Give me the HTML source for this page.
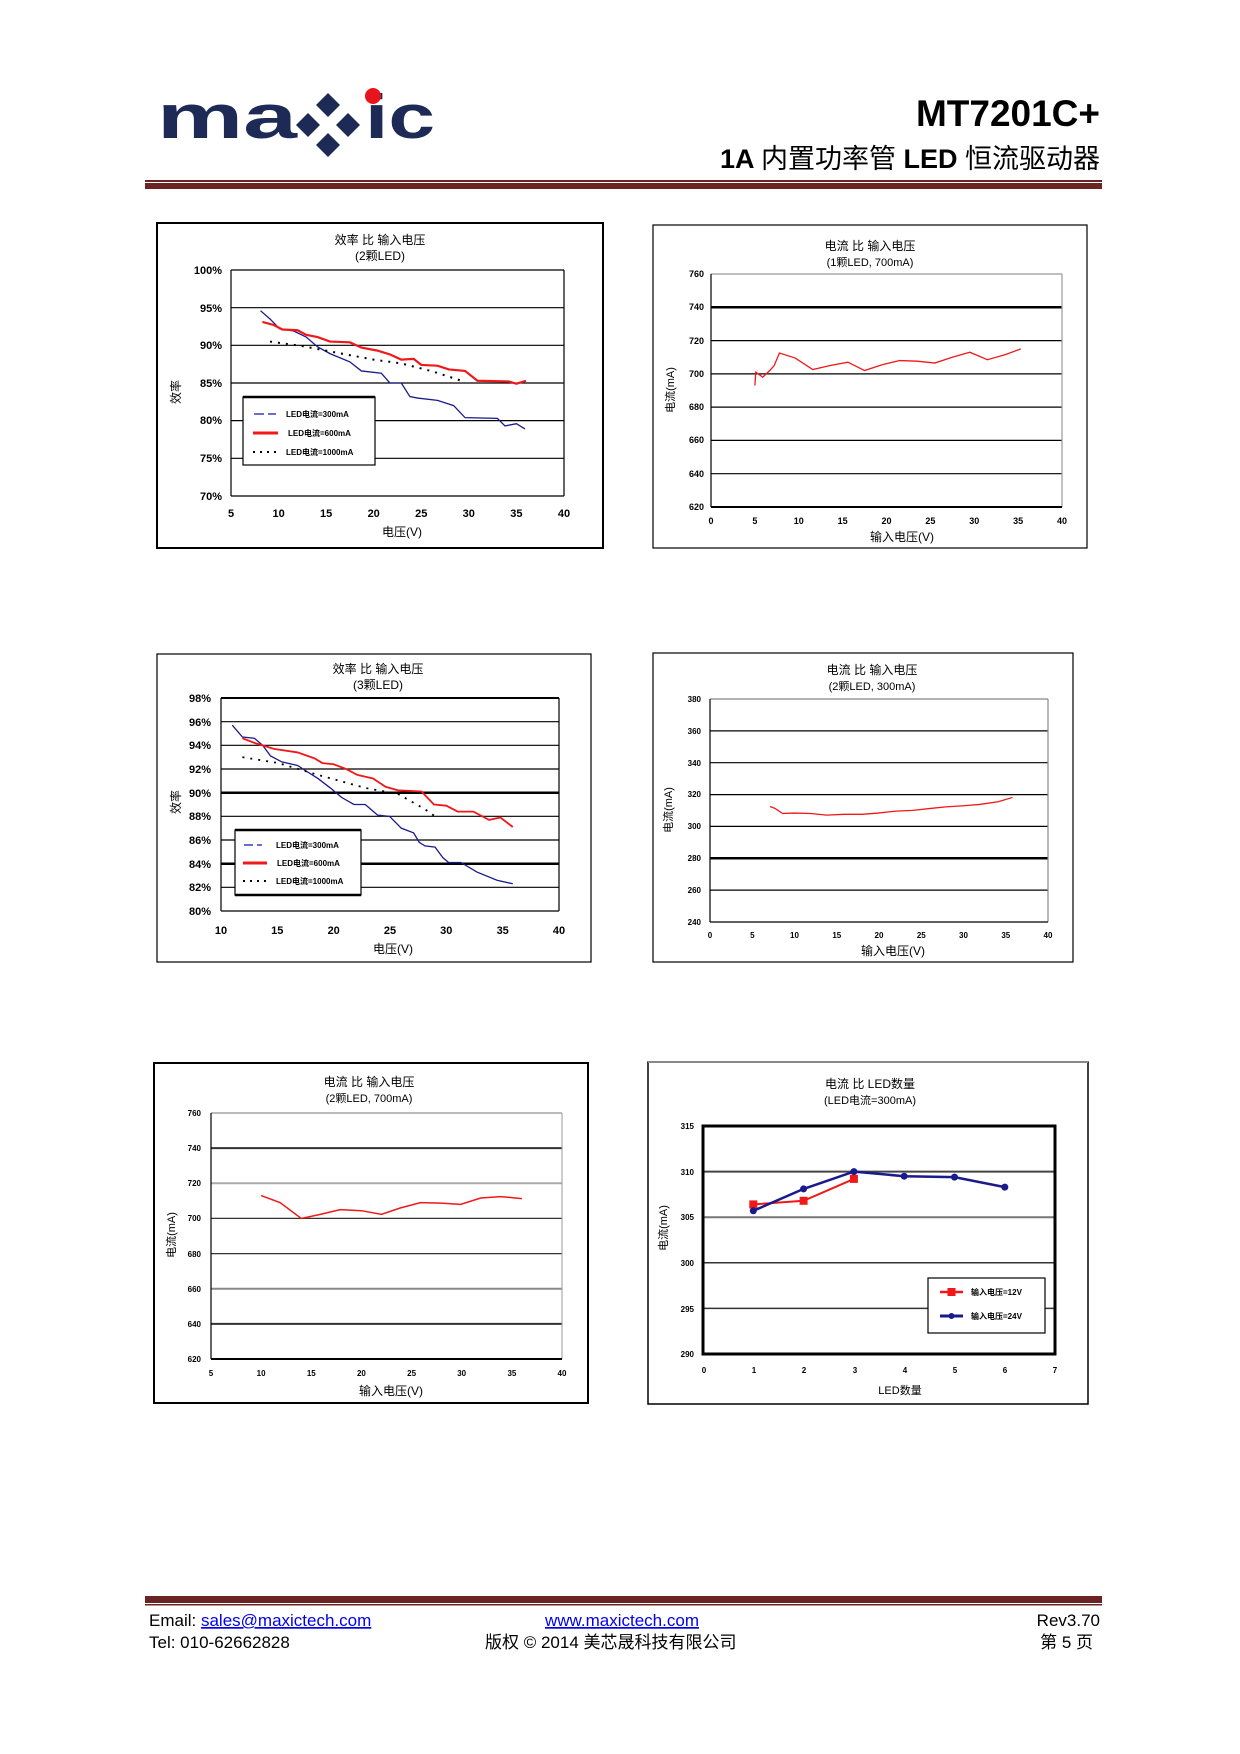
<!DOCTYPE html>
<html><head><meta charset="utf-8"><style>
html,body{margin:0;padding:0;background:#fff;}
body{width:1240px;height:1754px;position:relative;overflow:hidden;}
svg{position:absolute;left:0;top:0;}
text{font-family:"Liberation Sans","Noto Sans CJK SC",sans-serif;}
</style></head><body>
<svg width="1240" height="1754" viewBox="0 0 1240 1754" xmlns="http://www.w3.org/2000/svg">
<!-- Logo -->
<g>
<text x="157" y="138" font-size="62" font-weight="bold" fill="#1c2a55" textLength="140" lengthAdjust="spacingAndGlyphs">ma</text>
<g fill="#1c2a55">
<polygon points="328,93 340,105 328,117 316,105"/>
<polygon points="308,113 320,125 308,137 296,125"/>
<polygon points="348,113 360,125 348,137 336,125"/>
<polygon points="328,133 340,145 328,157 316,145"/>
</g>
<text x="365" y="138" font-size="62" font-weight="bold" fill="#1c2a55" textLength="70" lengthAdjust="spacingAndGlyphs">ic</text>
<circle cx="373" cy="96" r="8" fill="#e8141b"/>
</g>
<text x="1100" y="126" font-size="37" font-weight="bold" text-anchor="end" fill="#000">MT7201C+</text>
<text x="1100" y="168" font-size="27" font-weight="bold" text-anchor="end" fill="#000">1A <tspan font-weight="normal">内置功率管</tspan> LED <tspan font-weight="normal">恒流驱动器</tspan></text>
<rect x="145" y="180" width="957" height="2" fill="#6b2424"/>
<rect x="145" y="183" width="957" height="6" fill="#6b2424"/>

<!-- Chart 1 -->
<rect x="157" y="223" width="446" height="325" fill="none" stroke="#000" stroke-width="2"/>
<text x="380" y="244" font-size="12" text-anchor="middle">效率 比 输入电压</text>
<text x="380" y="260" font-size="12" text-anchor="middle">(2颗LED)</text>
<g stroke="#000" stroke-width="1.2">
<line x1="231" y1="270" x2="564" y2="270"/><line x1="231" y1="307.7" x2="564" y2="307.7"/><line x1="231" y1="345.3" x2="564" y2="345.3"/><line x1="231" y1="383" x2="564" y2="383"/><line x1="231" y1="420.6" x2="564" y2="420.6"/><line x1="231" y1="458.3" x2="564" y2="458.3"/>
<line x1="231" y1="270" x2="231" y2="496"/><line x1="564" y1="270" x2="564" y2="496"/><line x1="231" y1="496" x2="564" y2="496"/>
</g>
<g font-size="11" font-weight="bold" text-anchor="end"><text x="222" y="274">100%</text><text x="222" y="312">95%</text><text x="222" y="349">90%</text><text x="222" y="387">85%</text><text x="222" y="424">80%</text><text x="222" y="462">75%</text><text x="222" y="500">70%</text></g>
<g font-size="11" font-weight="bold" text-anchor="middle"><text x="231" y="517">5</text><text x="278.6" y="517">10</text><text x="326.1" y="517">15</text><text x="373.7" y="517">20</text><text x="421.3" y="517">25</text><text x="468.8" y="517">30</text><text x="516.4" y="517">35</text><text x="564" y="517">40</text></g>
<text x="402" y="536" font-size="12" text-anchor="middle">电压(V)</text>
<text transform="translate(180,392) rotate(-90)" font-size="12" text-anchor="middle">效率</text>
<svg x="231" y="270" width="333" height="226" viewBox="5 -100 35 30" preserveAspectRatio="none" overflow="visible">
<polyline fill="none" stroke="#1a1a8c" stroke-width="1.3" vector-effect="non-scaling-stroke" points="8.1,-94.6 9.1,-93.5 10.1,-92.2 11.6,-91.9 12.9,-91.1 14.1,-89.8 15.4,-88.9 17.5,-87.8 18.7,-86.6 20.8,-86.3 21.7,-85 22.9,-85 23.8,-83.2 24.6,-83 26.7,-82.7 28.4,-82 29.6,-80.4 33,-80.3 33.8,-79.3 35,-79.6 35.9,-78.9"/>
<polyline fill="none" stroke="#f01818" stroke-width="2.2" vector-effect="non-scaling-stroke" points="8.3,-93.1 9.5,-92.7 10.4,-92.1 12,-92 12.9,-91.4 14.1,-91.1 15.4,-90.5 17.5,-90.4 18.7,-89.7 20.4,-89.3 21.7,-88.8 22.9,-88.1 24.2,-88.2 25,-87.4 26.7,-87.3 27.9,-86.8 29.6,-86.6 30.9,-85.3 34.2,-85.2 35,-84.9 36,-85.3"/>
<polyline fill="none" stroke="#000" stroke-width="2" stroke-dasharray="2 6" vector-effect="non-scaling-stroke" points="9.1,-90.5 12.5,-89.9 15.8,-89.1 20,-88.1 22.9,-87.6 26.3,-86.5 29.2,-85.3"/>
</svg>
<rect x="243" y="397" width="132" height="68" fill="#fff" stroke="#000" stroke-width="1.2"/>
<line x1="243" y1="397" x2="375" y2="397" stroke="#000" stroke-width="2.5"/>
<line x1="254" y1="414" x2="276" y2="414" stroke="#6b6bd0" stroke-width="2" stroke-dasharray="10 4"/>
<line x1="253" y1="433" x2="278" y2="433" stroke="#f01818" stroke-width="3"/>
<line x1="253" y1="452" x2="278" y2="452" stroke="#000" stroke-width="2" stroke-dasharray="2 5"/>
<g font-size="8" font-weight="bold"><text x="286" y="417">LED电流=300mA</text><text x="288" y="436">LED电流=600mA</text><text x="286" y="455">LED电流=1000mA</text></g>

<!-- Chart 2 -->
<rect x="653" y="225" width="434" height="323" fill="none" stroke="#000" stroke-width="1.2"/>
<text x="870" y="250" font-size="12" text-anchor="middle">电流 比 输入电压</text>
<text x="870" y="266" font-size="11" text-anchor="middle">(1颗LED, 700mA)</text>
<g stroke="#000" stroke-width="1.2">
<line x1="711" y1="274" x2="1062" y2="274" stroke="#999"/><line x1="711" y1="307.3" x2="1062" y2="307.3" stroke-width="2.5"/><line x1="711" y1="340.6" x2="1062" y2="340.6"/><line x1="711" y1="373.9" x2="1062" y2="373.9"/><line x1="711" y1="407.1" x2="1062" y2="407.1"/><line x1="711" y1="440.4" x2="1062" y2="440.4"/><line x1="711" y1="473.7" x2="1062" y2="473.7"/>
<line x1="711" y1="274" x2="711" y2="507"/><line x1="1062" y1="274" x2="1062" y2="507" stroke="#999"/><line x1="711" y1="507" x2="1062" y2="507" stroke-width="2"/>
</g>
<g font-size="9" font-weight="bold" text-anchor="end"><text x="704" y="277">760</text><text x="704" y="310">740</text><text x="704" y="344">720</text><text x="704" y="377">700</text><text x="704" y="410">680</text><text x="704" y="443">660</text><text x="704" y="477">640</text><text x="704" y="510">620</text></g>
<g font-size="9" font-weight="bold" text-anchor="middle"><text x="711" y="524">0</text><text x="754.9" y="524">5</text><text x="798.8" y="524">10</text><text x="842.6" y="524">15</text><text x="886.5" y="524">20</text><text x="930.4" y="524">25</text><text x="974.3" y="524">30</text><text x="1018.1" y="524">35</text><text x="1062" y="524">40</text></g>
<text x="902" y="541" font-size="12" text-anchor="middle">输入电压(V)</text>
<text transform="translate(674,390) rotate(-90)" font-size="11" text-anchor="middle">电流(mA)</text>
<svg x="711" y="274" width="351" height="233" viewBox="0 -760 40 140" preserveAspectRatio="none" overflow="visible">
<polyline fill="none" stroke="#f01818" stroke-width="1.3" vector-effect="non-scaling-stroke" points="5,-693 5.1,-701 5.9,-698 6.7,-702 7.2,-705 7.8,-712.5 9.6,-709.5 11.6,-702.6 13.6,-705 15.6,-707 17.5,-702 19.5,-705.5 21.5,-708 23.5,-707.6 25.5,-706.5 27.5,-710 29.5,-713 31.5,-708.5 33.5,-711.5 35.3,-715"/>
</svg>

<!-- Chart 3 -->
<rect x="157" y="654" width="434" height="308" fill="none" stroke="#000" stroke-width="1.2"/>
<text x="378" y="673" font-size="12" text-anchor="middle">效率 比 输入电压</text>
<text x="378" y="689" font-size="12" text-anchor="middle">(3颗LED)</text>
<g stroke="#000" stroke-width="1.2">
<line x1="221" y1="698" x2="559" y2="698" stroke-width="2"/><line x1="221" y1="721.7" x2="559" y2="721.7"/><line x1="221" y1="745.3" x2="559" y2="745.3"/><line x1="221" y1="769" x2="559" y2="769"/><line x1="221" y1="792.7" x2="559" y2="792.7" stroke-width="2.5"/><line x1="221" y1="816.3" x2="559" y2="816.3"/><line x1="221" y1="840" x2="559" y2="840"/><line x1="221" y1="863.7" x2="559" y2="863.7" stroke-width="2.5"/><line x1="221" y1="887.3" x2="559" y2="887.3"/>
<line x1="221" y1="698" x2="221" y2="911"/><line x1="559" y1="698" x2="559" y2="911"/><line x1="221" y1="911" x2="559" y2="911"/>
</g>
<g font-size="11" font-weight="bold" text-anchor="end"><text x="211" y="702">98%</text><text x="211" y="726">96%</text><text x="211" y="749">94%</text><text x="211" y="773">92%</text><text x="211" y="797">90%</text><text x="211" y="820">88%</text><text x="211" y="844">86%</text><text x="211" y="868">84%</text><text x="211" y="891">82%</text><text x="211" y="915">80%</text></g>
<g font-size="11" font-weight="bold" text-anchor="middle"><text x="221" y="934">10</text><text x="277.3" y="934">15</text><text x="333.7" y="934">20</text><text x="390" y="934">25</text><text x="446.3" y="934">30</text><text x="502.7" y="934">35</text><text x="559" y="934">40</text></g>
<text x="393" y="953" font-size="12" text-anchor="middle">电压(V)</text>
<text transform="translate(180,802) rotate(-90)" font-size="12" text-anchor="middle">效率</text>
<svg x="221" y="698" width="338" height="213" viewBox="10 -98 30 18" preserveAspectRatio="none" overflow="visible">
<polyline fill="none" stroke="#1a1a8c" stroke-width="1.3" vector-effect="non-scaling-stroke" points="11,-95.7 11.9,-94.7 12.96,-94.6 13.7,-94 14.4,-93.1 15.4,-92.6 16.8,-92.3 17.6,-91.8 18.6,-91.2 19.7,-90.4 20.7,-89.6 21.8,-89 22.8,-89 23.9,-88.1 24.96,-88 26,-87 27.1,-86.6 27.6,-85.8 28.1,-85.5 29,-85.4 29.7,-84.5 30.2,-84.1 31.3,-84.1 32.7,-83.3 34.5,-82.6 35.9,-82.3"/>
<polyline fill="none" stroke="#f01818" stroke-width="1.8" vector-effect="non-scaling-stroke" points="11.9,-94.6 13,-94.2 14.7,-93.7 16.8,-93.4 18.3,-92.9 19,-92.5 20,-92.4 21.1,-92 22.1,-91.5 23.5,-91.2 24.6,-90.5 25.7,-90.2 27.8,-90.1 28.9,-89 30,-88.9 31,-88.4 32.4,-88.4 33.8,-87.7 34.8,-87.9 35.9,-87.1"/>
<polyline fill="none" stroke="#000" stroke-width="1.8" stroke-dasharray="2 6" vector-effect="non-scaling-stroke" points="11.9,-93 15.1,-92.5 18.6,-91.5 22.8,-90.4 25.7,-89.9 28.1,-88.6 29,-88"/>
</svg>
<rect x="235" y="830" width="126" height="65" fill="#fff" stroke="#000" stroke-width="1.2"/>
<line x1="235" y1="830" x2="361" y2="830" stroke="#000" stroke-width="2.5"/><line x1="235" y1="895" x2="361" y2="895" stroke="#000" stroke-width="2.5"/>
<line x1="244" y1="845" x2="262" y2="845" stroke="#6b6bd0" stroke-width="2" stroke-dasharray="9 4"/>
<line x1="243" y1="863" x2="267" y2="863" stroke="#f01818" stroke-width="3"/>
<line x1="243" y1="881" x2="267" y2="881" stroke="#000" stroke-width="2" stroke-dasharray="2 5"/>
<g font-size="8" font-weight="bold"><text x="276" y="848">LED电流=300mA</text><text x="277" y="866">LED电流=600mA</text><text x="276" y="884">LED电流=1000mA</text></g>

<!-- Chart 4 -->
<rect x="653" y="653" width="420" height="309" fill="none" stroke="#000" stroke-width="1.2"/>
<text x="872" y="674" font-size="12" text-anchor="middle">电流 比 输入电压</text>
<text x="872" y="690" font-size="11" text-anchor="middle">(2颗LED, 300mA)</text>
<g stroke="#000" stroke-width="1.2">
<line x1="710" y1="699" x2="1048" y2="699" stroke="#888"/><line x1="710" y1="730.9" x2="1048" y2="730.9"/><line x1="710" y1="762.7" x2="1048" y2="762.7"/><line x1="710" y1="794.6" x2="1048" y2="794.6"/><line x1="710" y1="826.4" x2="1048" y2="826.4"/><line x1="710" y1="858.3" x2="1048" y2="858.3" stroke-width="2.5"/><line x1="710" y1="890.1" x2="1048" y2="890.1"/>
<line x1="710" y1="699" x2="710" y2="922"/><line x1="1048" y1="699" x2="1048" y2="922" stroke="#888"/><line x1="710" y1="922" x2="1048" y2="922"/>
</g>
<g font-size="8" font-weight="bold" text-anchor="end"><text x="701" y="702">380</text><text x="701" y="734">360</text><text x="701" y="766">340</text><text x="701" y="797">320</text><text x="701" y="829">300</text><text x="701" y="861">280</text><text x="701" y="893">260</text><text x="701" y="925">240</text></g>
<g font-size="8" font-weight="bold" text-anchor="middle"><text x="710" y="938">0</text><text x="752.3" y="938">5</text><text x="794.5" y="938">10</text><text x="836.8" y="938">15</text><text x="879" y="938">20</text><text x="921.3" y="938">25</text><text x="963.5" y="938">30</text><text x="1005.8" y="938">35</text><text x="1048" y="938">40</text></g>
<text x="893" y="955" font-size="12" text-anchor="middle">输入电压(V)</text>
<text transform="translate(672,810) rotate(-90)" font-size="11" text-anchor="middle">电流(mA)</text>
<svg x="710" y="699" width="338" height="223" viewBox="0 -380 40 140" preserveAspectRatio="none" overflow="visible">
<polyline fill="none" stroke="#f01818" stroke-width="1.3" vector-effect="non-scaling-stroke" points="7.1,-312.5 7.7,-311.3 8.6,-308.1 9.9,-308.4 11.9,-308.1 13.8,-307.1 15.9,-307.6 18,-307.6 19.9,-308.4 22,-309.6 24,-310.1 26.1,-311.3 27.9,-312.3 30,-313 31.9,-313.8 34.1,-315.5 35.8,-318.2"/>
</svg>

<!-- Chart 5 -->
<rect x="154" y="1063" width="434" height="340" fill="none" stroke="#000" stroke-width="2"/>
<text x="369" y="1086" font-size="12" text-anchor="middle">电流 比 输入电压</text>
<text x="369" y="1102" font-size="11" text-anchor="middle">(2颗LED, 700mA)</text>
<g stroke-width="2">
<line x1="211" y1="1113" x2="562" y2="1113" stroke="#bbb"/><line x1="211" y1="1148.1" x2="562" y2="1148.1" stroke="#333"/><line x1="211" y1="1183.3" x2="562" y2="1183.3" stroke="#aaa"/><line x1="211" y1="1218.4" x2="562" y2="1218.4" stroke="#333" stroke-width="1.2"/><line x1="211" y1="1253.6" x2="562" y2="1253.6" stroke="#333" stroke-width="1.2"/><line x1="211" y1="1288.7" x2="562" y2="1288.7" stroke="#888"/><line x1="211" y1="1323.9" x2="562" y2="1323.9" stroke="#333"/>
<line x1="211" y1="1113" x2="211" y2="1359" stroke="#000" stroke-width="1.2"/><line x1="562" y1="1113" x2="562" y2="1359" stroke="#999" stroke-width="1"/><line x1="211" y1="1359" x2="562" y2="1359" stroke="#000"/>
</g>
<g font-size="8" font-weight="bold" text-anchor="end"><text x="201" y="1116">760</text><text x="201" y="1151">740</text><text x="201" y="1186">720</text><text x="201" y="1221">700</text><text x="201" y="1257">680</text><text x="201" y="1292">660</text><text x="201" y="1327">640</text><text x="201" y="1362">620</text></g>
<g font-size="8" font-weight="bold" text-anchor="middle"><text x="211" y="1376">5</text><text x="261.1" y="1376">10</text><text x="311.3" y="1376">15</text><text x="361.4" y="1376">20</text><text x="411.6" y="1376">25</text><text x="461.7" y="1376">30</text><text x="511.9" y="1376">35</text><text x="562" y="1376">40</text></g>
<text x="391" y="1395" font-size="12" text-anchor="middle">输入电压(V)</text>
<text transform="translate(175,1235) rotate(-90)" font-size="11" text-anchor="middle">电流(mA)</text>
<svg x="211" y="1113" width="351" height="246" viewBox="5 -760 35 140" preserveAspectRatio="none" overflow="visible">
<polyline fill="none" stroke="#f01818" stroke-width="1.5" vector-effect="non-scaling-stroke" points="10,-713 11.9,-709 14,-700 15.9,-702.3 17.9,-705 20,-704.4 22,-702.3 23.9,-706 25.9,-709 27.9,-708.7 29.9,-708 31.9,-711.6 33.9,-712.4 36,-711.3"/>
</svg>

<!-- Chart 6 -->
<rect x="648" y="1062" width="440" height="342" fill="none" stroke="#000" stroke-width="1.5"/>
<line x1="648" y1="1062" x2="1088" y2="1062" stroke="#888" stroke-width="2"/>
<text x="870" y="1088" font-size="12" text-anchor="middle">电流 比 LED数量</text>
<text x="870" y="1104" font-size="11" text-anchor="middle">(LED电流=300mA)</text>
<g stroke-width="1.5">
<line x1="703" y1="1171.6" x2="1055" y2="1171.6" stroke="#444" stroke-width="2"/><line x1="703" y1="1217.2" x2="1055" y2="1217.2" stroke="#777" stroke-width="2"/><line x1="703" y1="1262.8" x2="1055" y2="1262.8" stroke="#333"/><line x1="703" y1="1308.4" x2="1055" y2="1308.4" stroke="#333"/>
</g>
<rect x="703" y="1126" width="352" height="228" fill="none" stroke="#000" stroke-width="3"/>
<g font-size="8" font-weight="bold" text-anchor="end"><text x="694" y="1129">315</text><text x="694" y="1175">310</text><text x="694" y="1220">305</text><text x="694" y="1266">300</text><text x="694" y="1312">295</text><text x="694" y="1357">290</text></g>
<g font-size="8" font-weight="bold" text-anchor="middle"><text x="704" y="1373">0</text><text x="754" y="1373">1</text><text x="804" y="1373">2</text><text x="855" y="1373">3</text><text x="905" y="1373">4</text><text x="955" y="1373">5</text><text x="1005" y="1373">6</text><text x="1055" y="1373">7</text></g>
<text x="900" y="1394" font-size="11" text-anchor="middle">LED数量</text>
<text transform="translate(667,1228) rotate(-90)" font-size="11" text-anchor="middle">电流(mA)</text>
<polyline fill="none" stroke="#f01818" stroke-width="2" points="753.3,1204.4 803.6,1200.8 853.9,1178.9"/>
<g fill="#f01818"><rect x="749.3" y="1200.4" width="8" height="8"/><rect x="799.6" y="1196.8" width="8" height="8"/><rect x="849.9" y="1174.9" width="8" height="8"/></g>
<polyline fill="none" stroke="#1a1a8c" stroke-width="2.5" points="753.3,1210.8 803.6,1188.9 853.9,1171.6 904.2,1176.2 954.5,1177.1 1004.8,1187.1"/>
<g fill="#1a1a8c"><circle cx="753.3" cy="1210.8" r="3.5"/><circle cx="803.6" cy="1188.9" r="3.5"/><circle cx="853.9" cy="1171.6" r="3.5"/><circle cx="904.2" cy="1176.2" r="3.5"/><circle cx="954.5" cy="1177.1" r="3.5"/><circle cx="1004.8" cy="1187.1" r="3.5"/></g>
<rect x="928" y="1278" width="117" height="55" fill="#fff" stroke="#000" stroke-width="1.2"/>
<line x1="940" y1="1292" x2="963" y2="1292" stroke="#f01818" stroke-width="2.5"/><rect x="947.5" y="1288" width="8" height="8" fill="#f01818"/>
<line x1="940" y1="1316" x2="963" y2="1316" stroke="#1a1a8c" stroke-width="3"/><circle cx="951.5" cy="1316" r="3" fill="#1a1a8c"/>
<g font-size="8" font-weight="bold"><text x="971" y="1295">输入电压=12V</text><text x="971" y="1319">输入电压=24V</text></g>

<!-- Footer -->
<rect x="145" y="1596" width="957" height="7" fill="#6b2424"/>
<rect x="145" y="1604" width="957" height="1.5" fill="#6b2424"/>
<g font-size="17">
<text x="149" y="1626">Email: <tspan fill="#0000ee" text-decoration="underline">sales@maxictech.com</tspan></text>
<text x="545" y="1626" fill="#0000ee" text-decoration="underline">www.maxictech.com</text>
<text x="1100" y="1626" text-anchor="end">Rev3.70</text>
<text x="149" y="1648">Tel: 010-62662828</text>
<text x="485" y="1648">版权 © 2014 美芯晟科技有限公司</text>
<text x="1093" y="1648" text-anchor="end">第 5 页</text>
</g>
</svg>
</body></html>
